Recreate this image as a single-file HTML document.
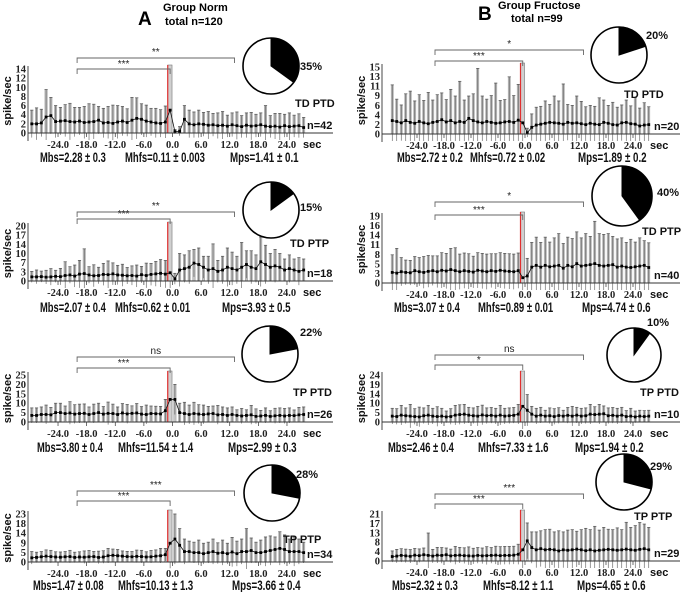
<!DOCTYPE html>
<html><head><meta charset="utf-8">
<style>
html,body{margin:0;padding:0;background:#fff;}
svg{display:block;font-family:"Liberation Sans",Arial,sans-serif;}
.tk{font-family:"Liberation Serif",serif;font-weight:bold;font-size:10.5px;fill:#222;}
.st{font-weight:bold;font-size:13.5px;fill:#111;}
.lb{font-weight:bold;font-size:11px;fill:#111;}
</style></head>
<body>
<svg id="fig" width="685" height="592" viewBox="0 0 685 592" xmlns="http://www.w3.org/2000/svg">
<text x="138" y="25" font-size="19" font-weight="bold">A</text>
<text x="163" y="11" font-size="11" font-weight="bold">Group Norm</text>
<text x="165" y="25" font-size="11" font-weight="bold">total n=120</text>
<text x="478" y="20" font-size="19" font-weight="bold">B</text>
<text x="498" y="9" font-size="11" font-weight="bold">Group Fructose</text>
<text x="511" y="22" font-size="11" font-weight="bold">total n=99</text>
</svg>
<script>
// ---- data: bins of 1 s from -30 s to +28 s (58 bins) ----
const binStart = -30;
const xTicks = [-24, -18, -12, -6, 0, 6, 12, 18, 24];
const xTickLabels = ["-24.0","-18.0","-12.0","-6.0","0.0","6.0","12.0","18.0","24.0"];

const meanA1 = [2,2,2.2,3.5,3.8,2.5,2.6,2.7,2.5,2.4,2.6,2.3,2.4,2.5,2.8,2.2,2.3,2.1,2.4,2.6,2.3,2.8,3.2,3,2.6,2.4,2.2,2.1,2.4,5,0.3,0.4,3,2,1.8,2,1.9,1.7,1.8,1.6,1.7,1.5,1.8,1.6,1.4,1.7,1.5,1.6,1.8,1.5,1.4,1.5,1.3,1.6,1.4,1.5,1.6,1.2];
const errA1 = [3,3.5,3,6,4,3.5,3,3.5,4,3.2,3,3.5,4,3.8,3,3.2,3.5,4,3.6,3.2,3,5,4.5,3.4,3.5,3,3.2,3,3.5,5,0.5,1,3,3,2.8,3,2.6,3,2.5,2.8,3,2.4,2.6,3,2.4,2.7,3,2.5,2.6,4.5,2.4,2.8,3,2.5,3,2.4,2.6,2.2];
const meanA2 = [1.5,1.5,1.6,1.4,1.5,1.7,1.6,2,2.2,1.8,2.5,2.7,2.2,1.9,2,2.4,2.3,2.6,2.2,2.1,1.9,2,1.8,2.3,2,2.4,2.6,2.8,2.5,3,0.8,4,4.5,5,6.5,6,5,4,4.5,3.5,4,5,4.5,4,5,6,5,4.5,7,6,5,5.5,5,4,4.5,4,3.5,4];
const errA2 = [2,2.5,2,2.5,3,2.2,3,5,3,4,5,9,3,4,3,4,5,4,3.5,4,3,3.5,4,3,4.5,4,4.5,5,5,8,2,6,5,6,5,6,4,5,9,4,5,7,6,5,9,5,6,5,9,7,5,6,5,4,5,4,5,4];
const meanA3 = [3.5,3.5,4,4,3.8,5,5,4.5,4.8,4.2,4.5,4.6,4,4.5,5,4.2,4.6,4.5,4,4.8,4.3,4.6,4.8,4.2,4,4.5,4.4,4.3,6,12,12,5,4.5,4,4.5,4.2,4,4.3,4.5,3.8,4,3.5,4,3.5,3.2,3.5,3.8,3,3.2,3.5,3,3.3,3.5,3.2,3.5,3.4,3.8,4];
const errA3 = [4,4,4,5,4,5,5,4,6,5,5,5,4,5,5,4,6,5,4,5,5,4,5,4,5,4,4,4,6,12,8,5,6,5,6,5,5,4,4,5,4,4,4,3,4,3,5,4,3,4,3,4,4,4,4,3,4,4];
const meanA4 = [2,2.2,2.5,2.8,2.6,2.4,2.3,2.5,2.6,2.2,2.4,2.3,2.5,2.6,2.2,2.4,3,3.2,3,2.8,2.6,2.5,2.7,2.6,2.4,2.5,2.8,3,3.5,9,11,8,5,5,4.5,4.5,4,4.5,5,4.2,4.5,4,4.8,4,5,5,5.5,4.5,4.5,5,5.5,6,6.5,6,5,5,5,4.5];
const errA4 = [3,2.5,2.5,3,3,2.5,2.5,2.5,3,2.5,2.5,3,3,2.5,3,3,3.5,3,3,2.5,2.5,2.5,3,3,2.5,3,3,3.5,3,12,12,8,6,5,5,6,5,5,6,5,6,5,7,6,6,11,6,5,6,7,7,6,8,7,6,7,6,5];
const meanB1 = [3,2.8,2.5,3,2.6,2.4,2.8,2.5,2.3,2.6,2.8,3.2,2.7,3,2.5,2.8,2.6,3.5,3,2.7,2.5,2.8,2.6,2.4,2.5,2.7,2.8,2.6,3.1,2.5,0.3,1.5,2,2.2,2.4,2.6,2.5,2.4,2.2,2.6,2.4,2.5,2.3,2.1,2.4,2.2,2.1,2.6,2.4,2.1,2,2.5,2.6,2.3,2.2,1.8,2,2.1];
const errB1 = [8,5,4,6,7,5,6,5,7,5,6,6,5,7,6,9,5,5,6,12,6,5,6,9,5,5,10,6,8,8,1,3,4,4,5,4,6,5,9,4,4,6,5,4,4,4,6,5,4,5,4,4,5,4,6,4,5,4];
const meanB2 = [3,2.8,3.2,3,2.9,3.5,3.2,3,3.3,3.5,3.2,3.6,3.4,3.8,3.5,3.2,3.5,3.3,3.1,3.6,3.4,3.2,3.5,3.3,3.6,3.4,3.3,3.2,3.5,1.5,2,4.5,5,4.5,5,4.6,4.8,5,4.2,5,4.6,5.5,4.8,5,5.2,5.5,5,4.8,5,5.2,4.5,4.8,4.5,4.4,4.6,4.8,5,4.4];
const errB2 = [5,7,4,3.5,3.5,4,4,4.5,4.5,4.2,4.5,5,5,6,6.5,5,5,5,4.5,5,5,5,4.8,5,5,5,5,5,5,5,5,7,8,7,8,7,8,9,7,8,8,9,8,9,8,12,9,9,9,8,8,8,7,8,7,8,7,7];
const meanB3 = [3,2.8,3.5,3.2,3,2.8,2.6,3.2,3.5,3,2.8,3,2.6,2.8,3.5,3.8,4,3.5,3.2,3,3.6,3.2,3.4,3,3.5,3,3.2,3.4,4,8,6,4,3,3.5,3,3.2,2.8,3.3,3,3.4,3,3.5,3,3.2,4,3.8,4,4.2,3.2,3.4,3,3.5,2.8,3,2.6,3,2.8,3];
const errB3 = [4,4,5,4,6,4,5,4,5,4,5,4,3,4,5,5,5,4,4,5,5,4,4,4,5,4,4,4,5,14,8,4,4,4,3,4,4,4,3,4,5,4,4,4,5,4,5,4,4,4,4,4,3,4,3,3,3,3];
const meanB4 = [2,2.2,2.5,2.3,2.1,2.6,2.4,2.8,2.5,2.2,2.6,2.5,2.8,2.3,2.5,2.6,2.4,2.3,2.2,2.5,2.3,2.4,2.5,2.6,2.4,2.5,2.5,2.6,3,5,9,6,5,5.5,5,5.2,5,4.5,5,4.8,5,5.3,5,4.6,5,4.5,4.8,5,5.2,5,4.8,5,5.3,5,4.8,5.2,5.5,5];
const errB4 = [2.5,3,3,3,3,3,3,3,10,3,3.5,3.5,3,3,4,3.5,3.5,4,3.5,3.5,3.5,4,3.5,4,4,4,4,4,4.5,12,8,7,8,8,9,9,8,9,8,9,9,8,9,10,9,11,9,10,9,9,10,9,12,10,11,12,11,10];

const yLabelsA1 = ["0","2","4","6","8","10","12","14"];
const yLabelsA2 = ["0","3","7","10","14","17","20"];
const yLabelsA3 = ["0","5","10","15","20","25"];
const yLabelsA4 = ["0","5","9","14","18","23"];
const yLabelsB1 = ["0","2","4","6","9","11","13","15"];
const yLabelsB2 = ["0","3","5","8","11","14","16","19"];
const yLabelsB3 = ["0","5","10","14","19","24"];
const yLabelsB4 = ["0","4","8","13","17","21"];

const pieShares = [35, 15, 22, 28, 20, 40, 10, 29];
const nCounts = [42, 18, 26, 34, 20, 40, 10, 29];
const classes = ["TD PTD","TD PTP","TP PTD","TP PTP","TD PTD","TD PTP","TP PTD","TP PTP"];
const sigLong = ["**","**","ns","***","*","*","ns","***"];
const sigShort = ["***","***","***","***","***","***","*","***"];
const statMbs = ["2.28 ± 0.3","2.07 ± 0.4","3.80 ± 0.4","1.47 ± 0.08","2.72 ± 0.2","3.07 ± 0.4","2.46 ± 0.4","2.32 ± 0.3"];
const statMhfs = ["0.11 ± 0.003","0.62 ± 0.01","11.54 ± 1.4","10.13 ± 1.3","0.72 ± 0.02","0.89 ± 0.01","7.33 ± 1.6","8.12 ± 1.1"];
const statMps = ["1.41 ± 0.1","3.93 ± 0.5","2.99 ± 0.3","3.66 ± 0.4","1.89 ± 0.2","4.74 ± 0.6","1.94 ± 0.2","4.65 ± 0.6"];

const means = [meanA1,meanA2,meanA3,meanA4,meanB1,meanB2,meanB3,meanB4];
const errs = [errA1,errA2,errA3,errA4,errB1,errB2,errB3,errB4];
const yLabels = [yLabelsA1,yLabelsA2,yLabelsA3,yLabelsA4,yLabelsB1,yLabelsB2,yLabelsB3,yLabelsB4];

// layout (not data)
const L = [
 {ax:28,x0:172.5,pps:4.77,zy:133,ty:69,right:333,pie:[271,66,28],pct:[300,70],cls:[295,107],brL:58,brS:69,st:[157,40,125,230],ytitle:true},
 {ax:28,x0:172.5,pps:4.77,zy:281,ty:226,right:333,pie:[271,210,28],pct:[300,211],cls:[290,247],brL:212,brS:219,st:[307,40,115,222],ytitle:true},
 {ax:28,x0:172.5,pps:4.77,zy:422,ty:375,right:333,pie:[270,354,28],pct:[300,336],cls:[293,396],brL:357,brS:368,st:[447,37,118,228],ytitle:true},
 {ax:28,x0:172.5,pps:4.77,zy:562,ty:514,right:333,pie:[272,493,28],pct:[296,478],cls:[283,543],brL:491,brS:501,st:[585,33,118,232],ytitle:true},
 {ax:382,x0:525,pps:4.5,zy:134,ty:67,right:680,pie:[619,55,28],pct:[646,39],cls:[624,98],brL:50,brS:61,st:[157,397,470,578],ytitle:true},
 {ax:382,x0:525,pps:4.5,zy:283,ty:216,right:680,pie:[622,196,30],pct:[657,196],cls:[642,235],brL:202,brS:215,st:[307,394,478,582],ytitle:true},
 {ax:382,x0:525,pps:4.5,zy:422,ty:375,right:680,pie:[634,355,27],pct:[647,326],cls:[640,396],brL:355,brS:365,st:[447,388,478,575],ytitle:true},
 {ax:382,x0:525,pps:4.5,zy:561,ty:514,right:680,pie:[624,482,28],pct:[650,470],cls:[634,520],brL:494,brS:504,st:[585,392,483,577],ytitle:false}
];
const NS="http://www.w3.org/2000/svg";
const svg=document.getElementById('fig');
function mk(tag,attrs,parent,txt){const e=document.createElementNS(NS,tag);for(const k in attrs)e.setAttribute(k,attrs[k]);if(txt!==undefined)e.textContent=txt;(parent||svg).appendChild(e);return e;}

for(let p=0;p<8;p++){
  const c=L[p], mean=means[p], err=errs[p], labs=yLabels[p];
  const yMax=parseFloat(labs[labs.length-1]);
  const xS=t=>c.x0+t*c.pps;
  const yS=v=>c.zy-(v/yMax)*(c.zy-c.ty);
  const g=mk('g',{});
  
  
  const bw=c.pps*0.5;
  for(let i=0;i<mean.length;i++){
    const tc=binStart+i+0.5, x=xS(tc);
    const top=yS(mean[i]+err[i]);
    const r=mk('rect',{x:x-bw/2,y:top,width:bw,height:c.zy-top,fill:'#c4c4c4',stroke:'#8a8a8a','stroke-width':0.4},g);
    
    
    const lo=Math.min(c.zy+7,yS(mean[i]-err[i]));
    const wl=mk('line',{x1:x,x2:x,y1:top,y2:lo,stroke:'#555','stroke-width':0.6},g);
    
    
    mk('line',{x1:x-1.6,x2:x+1.6,y1:top,y2:top,stroke:'#555','stroke-width':0.7},g);
  }
  const band=mk('rect',{x:xS(-1),y:c.ty-4,width:c.pps*0.9,height:c.zy-c.ty+4,fill:'#d0d0d0',stroke:'#777','stroke-width':0.6},g);
  
  
  const rl=mk('line',{x1:xS(-1),x2:xS(-1),y1:c.ty-4,y2:c.zy,stroke:'#e03030','stroke-width':1.2},g);
  
  
  let d='';
  for(let i=0;i<mean.length;i++){d+=(i?'L':'M')+xS(binStart+i+0.5).toFixed(1)+' '+yS(mean[i]).toFixed(1);}
  const ml=mk('path',{d:d,fill:'none',stroke:'#111','stroke-width':0.8},g);
  
  
  for(let i=0;i<mean.length;i++){
    const dt=mk('rect',{x:xS(binStart+i+0.5)-1.4,y:yS(mean[i])-1.4,width:2.8,height:2.8,fill:'#000'},g);
    
    
  }
  const ya=mk('line',{x1:c.ax,x2:c.ax,y1:c.ty-3,y2:c.zy+8,stroke:'#333','stroke-width':0.9},g);
  
  
  const xa=mk('line',{x1:c.ax,x2:c.right,y1:c.zy,y2:c.zy,stroke:'#333','stroke-width':0.9},g);
  
  
  labs.forEach((lb,k)=>{
    const y=c.zy-(k/(labs.length-1))*(c.zy-c.ty);
    const t=mk('text',{x:c.ax-2,y:y+3.5,'text-anchor':'end',class:'tk'},g,lb);
    
    
  });
  xTicks.forEach((tv,k)=>{
    mk('line',{x1:xS(tv),x2:xS(tv),y1:c.zy,y2:c.zy+4,stroke:'#333','stroke-width':0.7},g);
    const t=mk('text',{x:xS(tv),y:c.zy+15,'text-anchor':'middle',class:'tk'},g,xTickLabels[k]);
    
    
  });
  const sec=mk('text',{x:c.right-30,y:c.zy+15,class:'lb'},g,'sec');
  
  
  const nt=mk('text',{x:c.right-26,y:c.zy-4,class:'lb'},g,'n='+nCounts[p]);
  
  
  if(c.ytitle){
    const yt=mk('text',{x:0,y:0,class:'lb','text-anchor':'middle',transform:'translate('+(c.ax-17)+','+((c.zy+c.ty)/2)+') rotate(-90)'},g,'spike/sec');
    
    
  }
  const bx1=xS(-20), bx2=xS(-0.5), bx3=xS(13);
  const bl=mk('path',{d:`M${bx1} ${c.brL+5}V${c.brL}H${bx3}V${c.brL+5}`,fill:'none',stroke:'#666','stroke-width':0.9},g);
  
  
  const bs=mk('path',{d:`M${bx1} ${c.brS+5}V${c.brS}H${bx2}V${c.brS+5}`,fill:'none',stroke:'#666','stroke-width':0.9},g);
  
  
  const s1=mk('text',{x:(bx1+bx3)/2,y:c.brL-3,'text-anchor':'middle','font-size':10,fill:'#222'},g,sigLong[p]);
  
  
  const s2=mk('text',{x:(bx1+bx2)/2,y:c.brS-2,'text-anchor':'middle','font-size':10,fill:'#222'},g,sigShort[p]);
  
  
  const [cx,cy,r]=c.pie, a=pieShares[p]/100*2*Math.PI;
  const pc=mk('circle',{cx:cx,cy:cy,r:r,fill:'#fff',stroke:'#000','stroke-width':1.6},g);
  
  
  const ex=cx+r*Math.sin(a), ey=cy-r*Math.cos(a);
  const sl=mk('path',{d:`M${cx} ${cy}L${cx} ${cy-r}A${r} ${r} 0 ${a>Math.PI?1:0} 1 ${ex.toFixed(2)} ${ey.toFixed(2)}Z`,fill:'#000',stroke:'#000','stroke-width':1},g);
  
  
  const pt=mk('text',{x:c.pct[0],y:c.pct[1],class:'lb'},g,pieShares[p]+'%');
  
  
  const ct=mk('text',{x:c.cls[0],y:c.cls[1],class:'lb'},g,classes[p]);
  
  
  const [sy,m1,m2,m3]=c.st;
  const s_1='Mbs='+statMbs[p], s_2='Mhfs='+statMhfs[p], s_3='Mps='+statMps[p];
  const a1=mk('text',{x:m1,y:sy+5,class:'st',textLength:(s_1.length*4.7).toFixed(1),lengthAdjust:'spacingAndGlyphs'},g,s_1);
  
  
  const a2=mk('text',{x:m2,y:sy+5,class:'st',textLength:(s_2.length*4.7).toFixed(1),lengthAdjust:'spacingAndGlyphs'},g,s_2);
  
  
  const a3=mk('text',{x:m3,y:sy+5,class:'st',textLength:(s_3.length*4.9).toFixed(1),lengthAdjust:'spacingAndGlyphs'},g,s_3);
  
  
}
</script>
</body></html>
